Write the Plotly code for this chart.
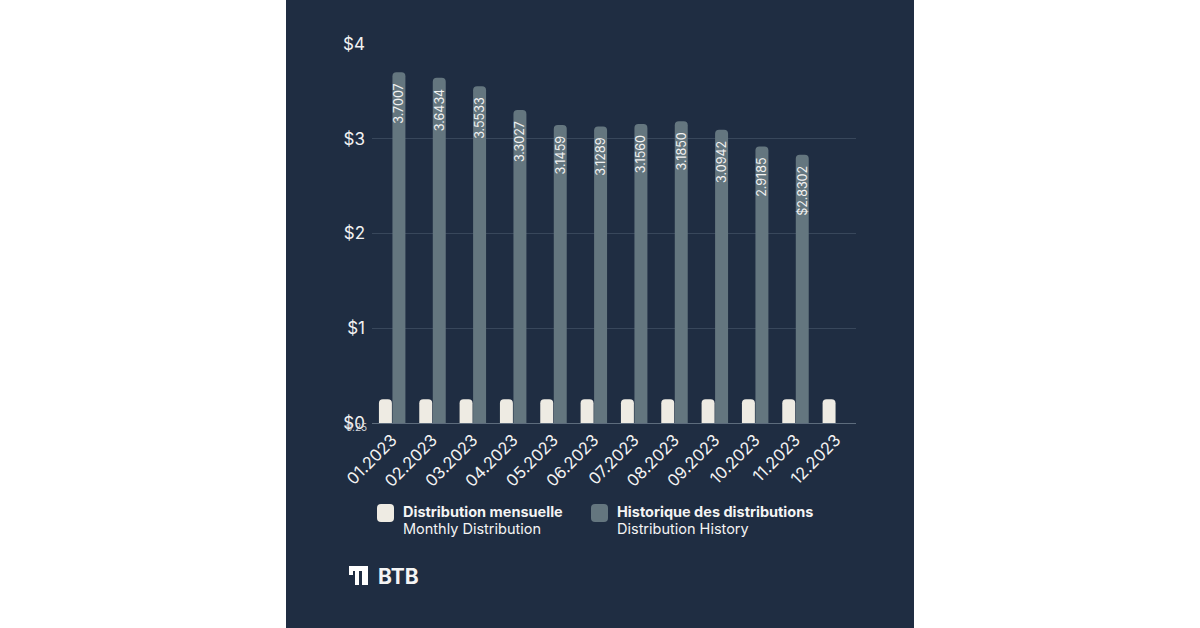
import plotly.graph_objects as go

months = ["01.2023", "02.2023", "03.2023", "04.2023", "05.2023", "06.2023",
          "07.2023", "08.2023", "09.2023", "10.2023", "11.2023", "12.2023"]
monthly = [0.25] * 12
history = [3.7007, 3.6434, 3.5533, 3.3027, 3.1459, 3.1289,
           3.1560, 3.1850, 3.0942, 2.9185, 2.8302, None]
history_labels = ["3.7007", "3.6434", "3.5533", "3.3027", "3.1459", "3.1289",
                  "3.1560", "3.1850", "3.0942", "2.9185", "$2.8302", ""]

BG = "#1f2d42"
CREAM = "#eeebe3"
SLATE = "#64767f"

# plot area in pixels
L, R, T, B = 372, 856, 44, 423
W, H = R - L, B - T

def px(x):
    return (x - L) / W

def py(y):
    return (B - y) / H

fig = go.Figure()
fig.add_bar(x=months, y=monthly, name="Distribution mensuelle",
            marker=dict(color=CREAM, line=dict(width=0)), hoverinfo="skip")
fig.add_bar(x=months, y=history, name="Historique des distributions",
            marker=dict(color=SLATE, line=dict(width=0)),
            text=[t + "\u00a0\u00a0" if t else t for t in history_labels],
            textposition="inside", insidetextanchor="end",
            textangle=-90, textfont=dict(color="#f2f2f2", size=12.5, family="Inter"),
            cliponaxis=False, hoverinfo="skip")

shapes = [
    dict(type="rect", xref="paper", yref="paper", x0=px(286), x1=px(914), y0=py(628), y1=py(0),
         fillcolor=BG, line=dict(width=0), layer="below"),
]
# legend swatches (rounded squares)
def rounded(x0, y0, x1, y1, r, color):
    X0, X1, Y0, Y1 = px(x0), px(x1), py(y1), py(y0)
    rx, ry = r / W, r / H
    path = (f"M{X0+rx},{Y0} L{X1-rx},{Y0} Q{X1},{Y0} {X1},{Y0+ry} L{X1},{Y1-ry} "
            f"Q{X1},{Y1} {X1-rx},{Y1} L{X0+rx},{Y1} Q{X0},{Y1} {X0},{Y1-ry} "
            f"L{X0},{Y0+ry} Q{X0},{Y0} {X0+rx},{Y0} Z")
    return dict(type="path", xref="paper", yref="paper", path=path,
                fillcolor=color, line=dict(width=0), layer="above")

shapes.append(rounded(377, 504, 394, 522, 4, CREAM))
shapes.append(rounded(591, 504, 608, 522, 4, SLATE))
# logo icon
for (x0, y0, x1, y1) in [(349, 566, 368, 571), (362, 566, 368, 585), (355, 571, 359, 585), (349, 571, 353, 575)]:
    shapes.append(dict(type="rect", xref="paper", yref="paper", x0=px(x0), x1=px(x1), y0=py(y1), y1=py(y0),
                       fillcolor="white", line=dict(width=0), layer="above"))

def ann(text, x, y, size, bold=False, anchor="left"):
    return dict(text=f"<b>{text}</b>" if bold else text, xref="paper", yref="paper",
                x=px(x), y=py(y), xanchor=anchor, yanchor="middle", showarrow=False,
                font=dict(size=size, color="#f4f4f4", family="Inter"))

annotations = [
    ann("Distribution mensuelle", 401, 511, 14.5, bold=True),
    ann("Monthly Distribution", 401, 528, 14.5),
    ann("Historique des distributions", 615, 511, 14.5, bold=True),
    ann("Distribution History", 615, 528, 14.5),
    ann("BTB", 376, 576, 21, bold=True),
    dict(text="0.25", xref="paper", yref="paper", x=px(369), y=py(427),
         xanchor="right", yanchor="middle", showarrow=False,
         font=dict(size=10, color="#cfd3d8", family="Inter")),
]

fig.update_layout(
    width=1200, height=628,
    paper_bgcolor="white", plot_bgcolor=BG,
    margin=dict(l=L, r=1200 - R, t=T, b=628 - B),
    barmode="group", bargap=0.33, bargroupgap=0.04, barcornerradius=4,
    font=dict(family="Inter", color="#eeeeee"),
    shapes=shapes, annotations=annotations,
    showlegend=False,
    uniformtext=dict(minsize=12, mode="show"),
)
fig.update_xaxes(tickangle=-45, tickfont=dict(size=16.5, color="#f2f2f2"),
                 showgrid=False, showline=True, linecolor="#5d6c7d", linewidth=1,
                 ticks="", fixedrange=True)
fig.update_yaxes(range=[0, 4], dtick=1, tickprefix="$", tickfont=dict(size=17, color="#f2f2f2"),
                 gridcolor="#38475b", gridwidth=1, zeroline=False, ticks="", ticklabelstandoff=6)

fig.write_html("out.html")
